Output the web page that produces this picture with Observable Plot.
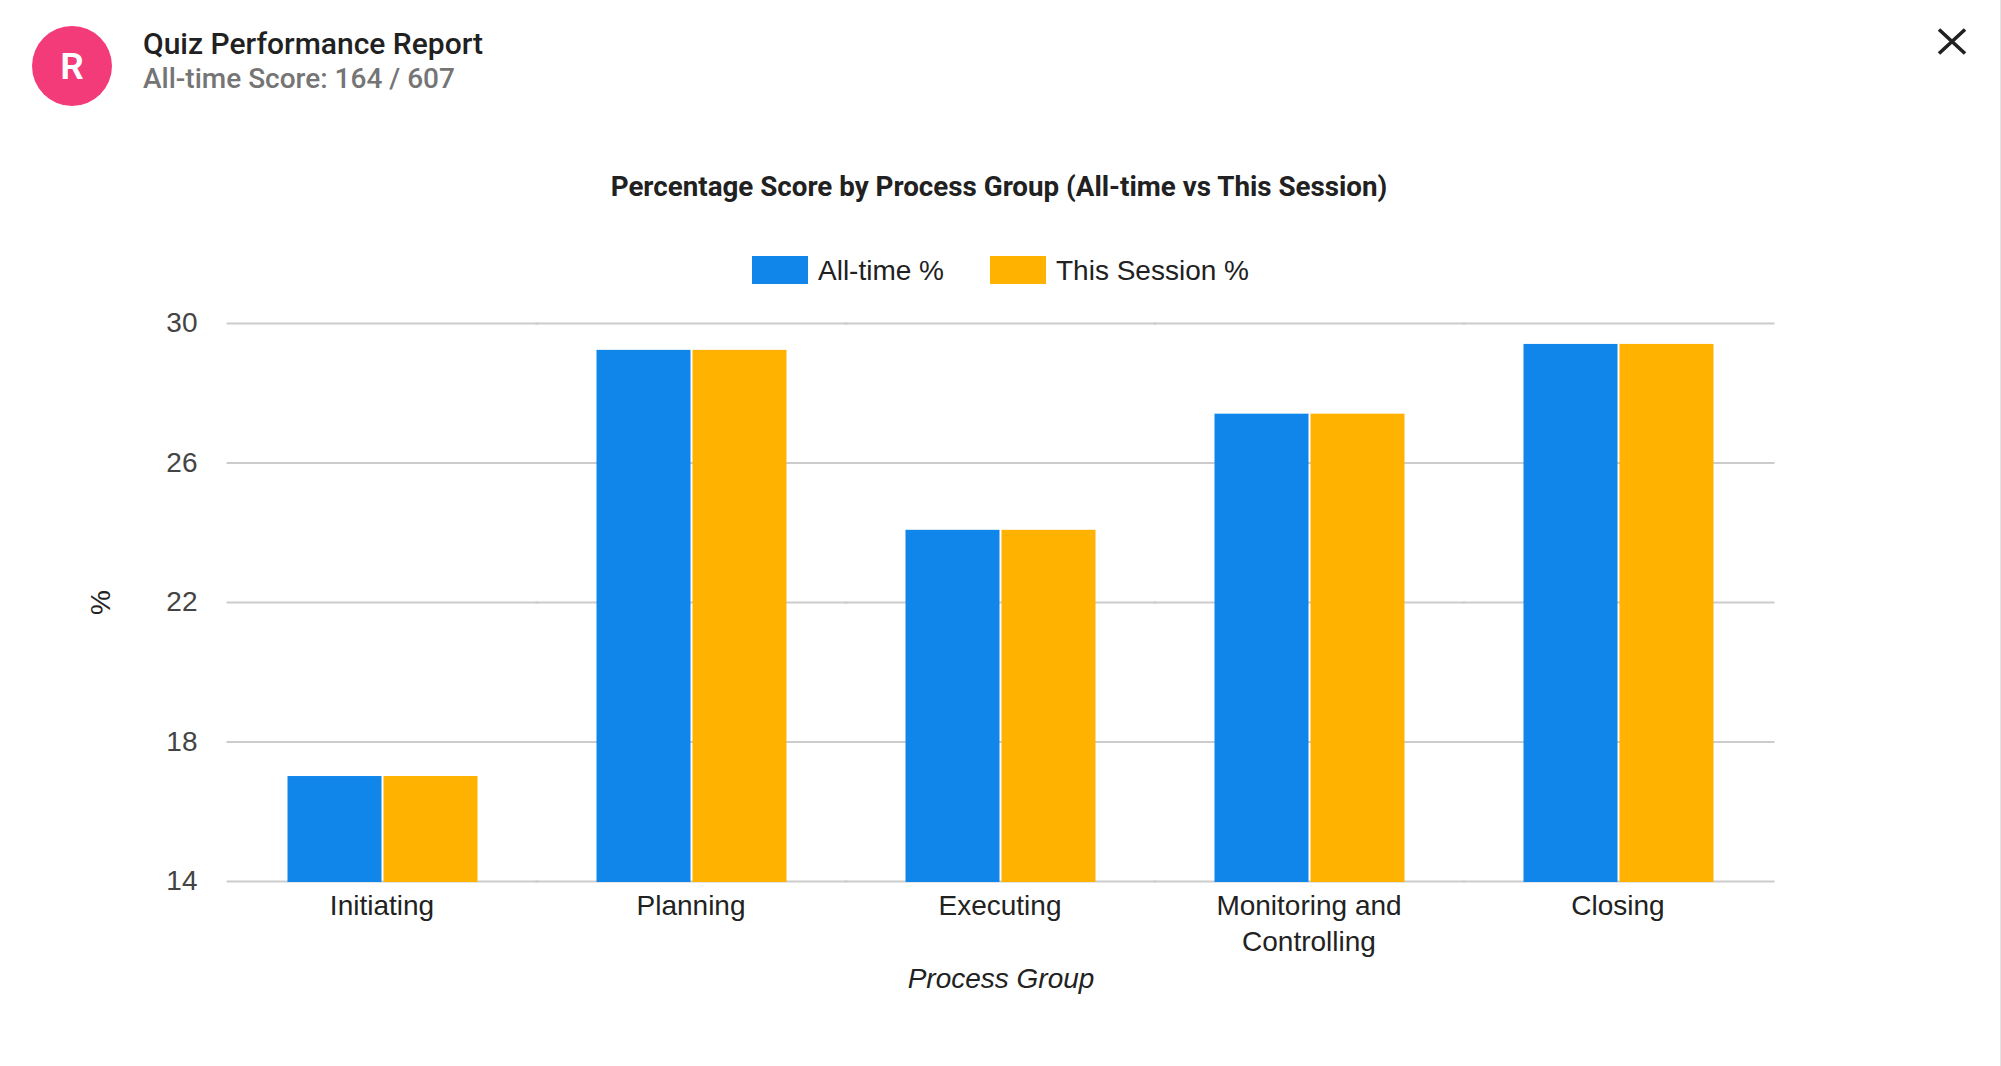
<!DOCTYPE html>
<html>
<head>
<meta charset="utf-8">
<script src="https://cdn.jsdelivr.net/npm/d3@7"></script>
<script src="https://cdn.jsdelivr.net/npm/@observablehq/plot@0.6"></script>
<style>
html,body{margin:0;padding:0;background:#fff;overflow:hidden;width:2001px;height:1066px}
.a{position:absolute;white-space:nowrap;line-height:1}
#avatar{left:32px;top:26px;width:80px;height:80px;border-radius:50%;background:#f43b7a;color:#fff;font:600 37px Roboto;display:flex;align-items:center;justify-content:center}
#title{left:143px;top:26px;font:500 30px Roboto;color:#212121}
#sub{left:143px;top:62px;font:500 28px Roboto;color:#757575}
#ctitle{left:0;width:1998px;text-align:center;top:170px;font:700 27.75px Roboto;color:#212121}
.sw{top:256px;width:56px;height:28px}
.lg{top:255px;font:28px "Liberation Sans";color:#212121}
#edge{left:2000px;top:0;width:1px;height:1066px;background:#e3e3e3}
#chart{position:absolute;left:0;top:290px}
#chart svg{display:block;max-width:none}
#chart [aria-label="fx-axis label"] text{font-style:italic}
#chart [aria-label="y-axis label"] text{fill:#222222}
</style>
</head>
<body>
<div class="a" id="avatar">R</div>
<div class="a" id="title">Quiz Performance Report</div>
<div class="a" id="sub">All-time Score: 164 / 607</div>
<svg class="a" style="left:1935px;top:25px" width="34" height="33" viewBox="0 0 34 33"><path d="M4 4.5L30 28.5M30 4.5L4 28.5" stroke="#212121" stroke-width="3.6" fill="none"/></svg>
<div class="a" id="ctitle">Percentage Score by Process Group (All-time vs This Session)</div>
<div class="a sw" id="sw0" style="left:752px"></div>
<div class="a lg" id="lg0" style="left:818px"></div>
<div class="a sw" id="sw1" style="left:990px"></div>
<div class="a lg" id="lg1" style="left:1056px"></div>
<div class="a" id="edge"></div>
<div id="chart"></div>
<script>
const categories = ["Initiating", "Planning", "Executing", "Monitoring and Controlling", "Closing"];
const seriesNames = ["All-time %", "This Session %"];
const allTime = [17.01, 29.23, 24.07, 27.4, 29.4];
const thisSession = [17.01, 29.23, 24.07, 27.4, 29.4];
const colors = ["#1186ea", "#ffb300"];
const yTicks = [14, 18, 22, 26, 30];

seriesNames.forEach((s, i) => {
  document.getElementById("sw" + i).style.background = colors[i];
  document.getElementById("lg" + i).textContent = s;
});

const rows = categories.flatMap((c, i) => [
  {category: c, series: seriesNames[0], value: allTime[i]},
  {category: c, series: seriesNames[1], value: thisSession[i]}
]);

const plot = Plot.plot({
  width: 2001,
  height: 776,
  marginTop: 33,
  marginBottom: 185,
  marginLeft: 227.5,
  marginRight: 228.5,
  style: {fontFamily: "Liberation Sans", background: "transparent"},
  fx: {domain: categories, padding: 0, axis: null},
  x: {domain: seriesNames, axis: null, paddingInner: 0.021, paddingOuter: 0.61},
  y: {domain: [14, 30], axis: null},
  color: {domain: seriesNames, range: colors},
  marks: [
    Plot.ruleY(yTicks, {stroke: "#cccccc", strokeWidth: 2, strokeOpacity: 1, insetLeft: -1.5, insetRight: -1.5}),
    Plot.barY(rows, {fx: "category", x: "series", y1: 14, y2: "value", fill: "series", insetBottom: -1}),
    Plot.axisY({
      ticks: yTicks, tickSize: 0, tickPadding: 31, fontSize: 28, color: "#444444",
      label: "%", labelAnchor: "center", labelArrow: "none", labelOffset: 138
    }),
    Plot.axisFx({
      anchor: "bottom", tickSize: 0, tickPadding: 8, fontSize: 28, color: "#222222", lineHeight: 1.286, dx: -1,
      tickFormat: d => d.replace(" and ", " and\n"),
      label: "Process Group", labelAnchor: "center", labelArrow: "none", labelOffset: 106
    })
  ]
});
document.getElementById("chart").appendChild(plot);
</script>
</body>
</html>
